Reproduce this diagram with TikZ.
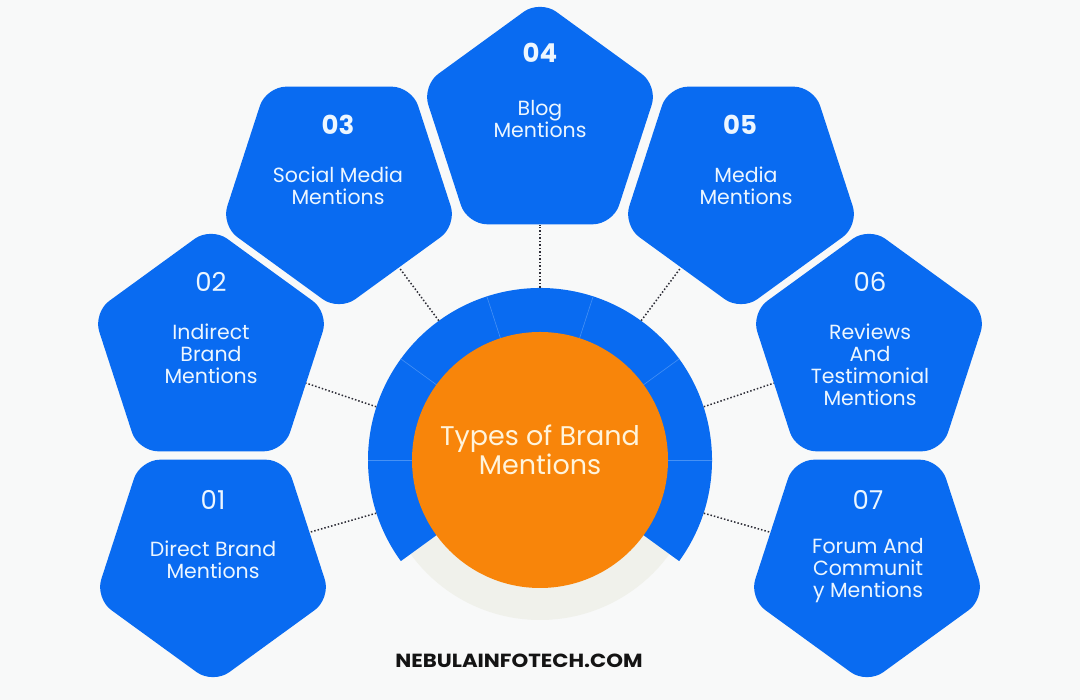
\documentclass[tikz,border=0pt]{standalone}
\usepackage{fontspec}
\setmainfont{Poppins}
\usetikzlibrary{shapes.geometric}
\definecolor{bg}{RGB}{248,249,249}
\definecolor{pblue}{RGB}{9,107,241}
\definecolor{divblue}{RGB}{70,145,245}
\definecolor{porange}{RGB}{248,133,10}
\definecolor{pgrey}{RGB}{240,241,235}
\definecolor{cream}{RGB}{255,244,220}
\definecolor{ptext}{RGB}{236,246,255}
\definecolor{dotc}{RGB}{45,45,55}
\begin{document}
\begin{tikzpicture}[x=1pt,y=1pt,
  penta/.style={regular polygon, regular polygon sides=5, minimum size=248pt, inner sep=0pt, fill=pblue, rounded corners=20pt},
  pdown/.style={penta, shape border rotate=180},
  num/.style={text=ptext, font=\fontsize{26}{28}\selectfont},
  numb/.style={text=ptext, font=\fontsize{26}{28}\selectfont\bfseries},
  lbl/.style={text=ptext, align=center, font=\fontsize{20.5}{22}\selectfont},
  conn/.style={dotc, line width=1.5pt, dash pattern=on 1.5pt off 2pt},
  divider/.style={divblue, line width=0.6pt},
]
\fill[bg] (0,0) rectangle (1080,700);
\useasboundingbox (0,0) rectangle (1080,700);
% ring
\coordinate (c) at (540,240);
\node[circle, minimum size=344pt, inner sep=0pt] (ring) at (c) {};
\fill[pgrey] (c) circle (160);
\fill[pblue] (c) -- ([shift={(-36:172)}]c) arc[start angle=-36, end angle=216, radius=172] -- cycle;
\foreach \a in {0,36,...,180} \draw[divider] ([shift={(\a:120)}]c) -- (ring.\a);
\node[circle, fill=porange, minimum size=256pt, inner sep=0pt] (hub) at (c) {};
\node[text=cream, align=center, font=\fontsize{27}{28.5}\selectfont] (title) at (540,250) {Types of Brand\\Mentions};
% pentagons
\node[pdown] (p1) at (213,140) {};
\node[penta] (p2) at (211,349) {};
\node[pdown] (p3) at (339,513) {};
\node[penta] (p4) at (540,576) {};
\node[pdown] (p5) at (741,513) {};
\node[penta] (p6) at (869,349) {};
\node[pdown] (p7) at (867,140) {};
% connectors
\draw[conn] (ring.198) -- (p1);
\draw[conn] (ring.162) -- (p2);
\draw[conn] (ring.126) -- (p3);
\draw[conn] (ring.90) -- (p4);
\draw[conn] (ring.54) -- (p5);
\draw[conn] (ring.18) -- (p6);
\draw[conn] (ring.-18) -- (p7);
% texts
\node[num] (n1) at (213,200) {01};
\node[lbl] (l1) at (213,140) {Direct Brand\\Mentions};
\node[num] (n2) at (211,418) {02};
\node[lbl] (l2) at (211,346) {Indirect\\Brand\\Mentions};
\node[numb] (n3) at (338,575) {03};
\node[lbl] (l3) at (338,514) {Social Media\\Mentions};
\node[numb] (n4) at (540,647) {04};
\node[lbl] (l4) at (540,581) {Blog\\Mentions};
\node[numb] (n5) at (740,575) {05};
\node[lbl] (l5) at (746,514) {Media\\Mentions};
\node[num] (n6) at (870,418) {06};
\node[lbl] (l6) at (870,335) {Reviews\\And\\Testimonial\\Mentions};
\node[num] (n7) at (868,200) {07};
\node[lbl] (l7) at (868,129) {Forum And\\Communit\\y Mentions};
\node[text=black!92, font=\fontsize{19}{20}\selectfont\bfseries] (site) at (519,39) {\scalebox{1.12}[1]{NEBULAINFOTECH.COM}};
\end{tikzpicture}
\end{document}
